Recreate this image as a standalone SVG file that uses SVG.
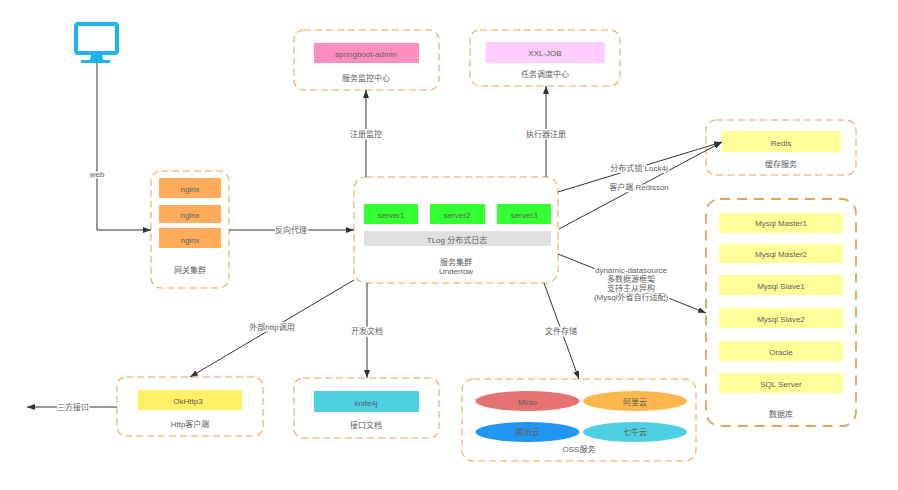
<svg xmlns="http://www.w3.org/2000/svg" width="898" height="490" viewBox="0 0 898 490">
<style>
text{font-family:"Liberation Sans","Noto Sans CJK SC",sans-serif;font-size:8px;fill:#606060;text-anchor:middle;dominant-baseline:central}
.box{fill:#fff;stroke:#e8a657;stroke-width:1.1;stroke-dasharray:7 4}
.big{stroke-width:1.800;stroke-dasharray:10 7;stroke:#e5a35a}
.c{fill:none;stroke:#333;stroke-width:1;marker-end:url(#arr)}
.l{paint-order:stroke;stroke:#fff;stroke-width:3px;stroke-linejoin:round}
</style>
<defs><marker id="arr" markerUnits="userSpaceOnUse" viewBox="0 0 8 6" refX="8" refY="3" markerWidth="8" markerHeight="6" orient="auto"><path d="M0 0L8 3L0 6Z" fill="#333"/></marker></defs>
<rect width="898" height="490" fill="#fff"/>
<g id="client">
<rect x="76" y="24" width="41" height="29" rx="2" fill="#fff" stroke="#1bb5ee" stroke-width="4"/>
<path d="M91 55H102L103 60H110V63H81V60H90Z" fill="#1bb5ee"/>
</g>
<g id="gateway">
<rect class="box" x="151" y="171" width="78" height="117" rx="10"/>
<rect x="159" y="178" width="62" height="20" fill="#ffad5c"/><text x="190" y="189">nginx</text>
<rect x="159" y="205" width="62" height="18" fill="#ffad5c"/><text x="190" y="215">nginx</text>
<rect x="159" y="228" width="62" height="20" fill="#ffad5c"/><text x="190" y="240">nginx</text>
<text x="190" y="270">网关集群</text>
</g>
<g id="admin">
<rect class="box" x="294" y="30" width="145" height="60" rx="10"/>
<rect x="314" y="43" width="105" height="20" fill="#ff8fc0"/><text x="366" y="54.500">springboot-admin</text>
<text x="366" y="78">服务监控中心</text>
</g>
<g id="xxl">
<rect class="box" x="470" y="30" width="150" height="56" rx="10"/>
<rect x="486" y="42" width="119" height="21" fill="#ffccff"/><text x="545" y="53">XXL-JOB</text>
<text x="545" y="74">任务调度中心</text>
</g>
<g id="service">
<rect class="box" x="354" y="177" width="204" height="106" rx="12"/>
<rect x="364" y="204" width="54" height="20" fill="#33ff33"/><text x="391" y="215">server1</text>
<rect x="430" y="204" width="55" height="20" fill="#33ff33"/><text x="457" y="215">server2</text>
<rect x="497" y="204" width="54" height="20" fill="#33ff33"/><text x="524" y="215">server3</text>
<rect x="364" y="231" width="187" height="15" fill="#e0e0e0"/><text x="457" y="240">TLog 分布式日志</text>
<text x="456" y="262">服务集群</text><text x="456" y="271">Undertow</text>
</g>
<g id="redis">
<rect class="box" x="706" y="120" width="150" height="55" rx="10"/>
<rect x="722" y="131" width="119" height="21" fill="#ffff99"/><text x="781" y="143">Redis</text>
<text x="781" y="164">缓存服务</text>
</g>
<g id="database">
<rect class="box big" x="706" y="199" width="150" height="227" rx="14"/>
<rect x="719" y="213" width="124" height="20" fill="#ffff99"/><text x="781" y="223">Mysql Master1</text>
<rect x="719" y="244" width="124" height="19" fill="#ffff99"/><text x="781" y="254">Mysql Master2</text>
<rect x="719" y="275" width="124" height="20" fill="#ffff99"/><text x="781" y="286">Mysql Slave1</text>
<rect x="719" y="308" width="124" height="20" fill="#ffff99"/><text x="781" y="319">Mysql Slave2</text>
<rect x="719" y="341" width="124" height="20" fill="#ffff99"/><text x="781" y="352">Oracle</text>
<rect x="719" y="373" width="124" height="20" fill="#ffff99"/><text x="781" y="384">SQL Server</text>
<text x="781" y="414">数据库</text>
</g>
<g id="okhttp">
<rect class="box" x="117" y="377" width="146" height="59" rx="9"/>
<rect x="138" y="390" width="104" height="20" fill="#fff066"/><text x="188" y="401">OkHttp3</text>
<text x="190" y="424">Http客户端</text>
</g>
<g id="knife4j">
<rect class="box" x="294" y="378" width="145" height="60" rx="9"/>
<rect x="314" y="391" width="105" height="21" fill="#4dd0e1"/><text x="366" y="403">knife4j</text>
<text x="366" y="425">接口文档</text>
</g>
<g id="oss">
<rect class="box" x="462" y="379" width="234" height="82" rx="11"/>
<ellipse cx="527.500" cy="401" rx="52" ry="10" fill="#e57373"/><text x="527.500" y="402">Minio</text>
<ellipse cx="635" cy="401" rx="52" ry="10" fill="#ffb74d"/><text x="635" y="402">阿里云</text>
<ellipse cx="527.500" cy="432" rx="52" ry="10" fill="#2196f3"/><text x="527.500" y="432">腾讯云</text>
<ellipse cx="635" cy="432" rx="52" ry="10" fill="#4dd0e1"/><text x="635" y="432">七牛云</text>
<text x="579" y="449">OSS服务</text>
</g>
<g id="connectors">
<path class="c" d="M97 63V230H151"/>
<path class="c" d="M229 230H354"/>
<path class="c" d="M366 177V90"/>
<path class="c" d="M546 177V86"/>
<path class="c" d="M558 192L722 142"/>
<path class="c" d="M559 229L722 142"/>
<path class="c" d="M558 254L706 313"/>
<path class="c" d="M354 280L190 377"/>
<path class="c" d="M367 283V378"/>
<path class="c" d="M544 283L579 379"/>
<path class="c" d="M117 407H27"/>
<text class="l" x="97" y="174">web</text>
<text class="l" x="291" y="230">反向代理</text>
<text class="l" x="366" y="134">注册监控</text>
<text class="l" x="546" y="134">执行器注册</text>
<text class="l" x="639" y="168">分布式锁 Lock4j</text>
<text class="l" x="639" y="187">客户端 Redisson</text>
<text class="l" x="631" y="270">dynamic-datasource</text>
<text class="l" x="631" y="279">多数据源框架</text>
<text class="l" x="631" y="288">支持主从异构</text>
<text class="l" x="631" y="297">(Mysql外省自行适配)</text>
<text class="l" x="272" y="327">外部http调用</text>
<text class="l" x="367" y="331">开发文档</text>
<text class="l" x="561" y="331">文件存储</text>
<text class="l" x="73" y="407">三方接口</text>
</g>
</svg>
